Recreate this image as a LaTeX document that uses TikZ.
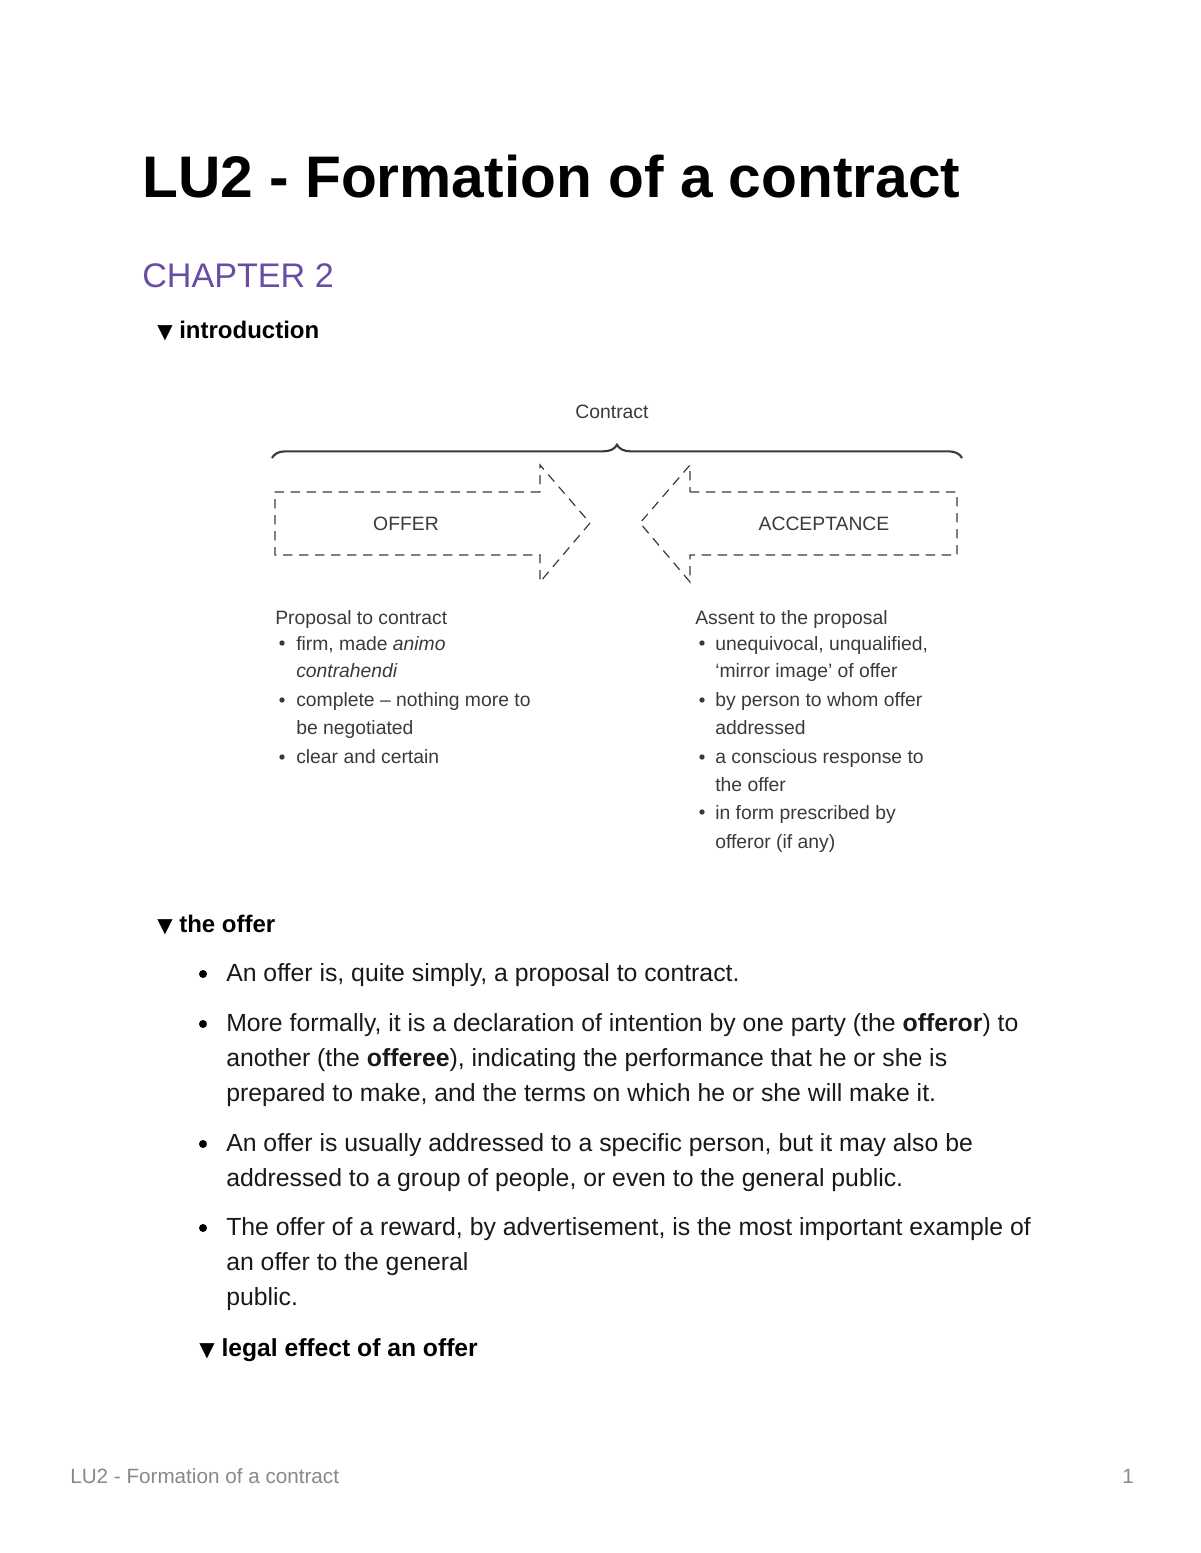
\documentclass[tikz,border=0pt]{standalone}
\usepackage{fontspec}
\setmainfont{Liberation Sans}
\newfontfamily\djvfont{DejaVu Sans}
\usetikzlibrary{decorations.pathreplacing}
\definecolor{purp}{HTML}{6A4BA5}
\definecolor{dg}{HTML}{3A3A3A}
\definecolor{fg}{HTML}{888888}
\tikzset{
 t/.style={anchor=base west,inner sep=0pt},
 body/.style={t,font=\fontsize{18.6}{22}\selectfont,text=black!90},
 dtx/.style={t,font=\fontsize{14.5}{17}\selectfont,text=dg},
 dbox/.style={draw=dg,dashed,dash pattern=on 7pt off 5pt,line width=0.9pt},
 bul/.style={circle,fill,inner sep=0pt,minimum size=4pt}
}
\begin{document}
\begin{tikzpicture}[x=0.75pt,y=-0.75pt]
\useasboundingbox (0,0) rectangle (1200,1553);
\node[t,font=\bfseries\fontsize{44}{52}\selectfont] (title) at (142,197) {LU2 - Formation of a contract};
\node[t,font=\fontsize{25.6}{30}\selectfont,text=purp] (ch) at (142,287) {CHAPTER 2};
\node[t,font=\bfseries\fontsize{18}{21}\selectfont] (intro) at (157,338) {{\djvfont\fontsize{15}{18}\selectfont▼} introduction};
% diagram
\node[dtx,anchor=base] (contract) at (612,418) {Contract};
\draw[dg,line width=1.6pt,decorate,decoration={brace,amplitude=10pt}] (272,458) -- (962,458);
\draw[dbox] (540,492) -- (275,492) -- (275,555) -- (540,555) -- (540,582) -- (590,523) -- (540,465) -- cycle;
\draw[dbox] (690,492) -- (957,492) -- (957,555) -- (690,555) -- (690,582) -- (640,523) -- (690,465) -- cycle;
\node[dtx,anchor=base] (offer) at (406,530) {OFFER};
\node[dtx,anchor=base] (acc) at (824,530) {ACCEPTANCE};
\node[dtx] (l0) at (275,624) {Proposal to contract};
\foreach \y/\s in {650/{firm, made \textit{animo}},677/{\textit{contrahendi}},706/{complete – nothing more to},734/{be negotiated},763/{clear and certain}}
  \node[dtx] at (296,\y) {\s};
\foreach \y in {643,700,757} \node[bul,dg] at (282,\y) {};
\node[dtx] (r0) at (695,624) {Assent to the proposal};
\foreach \y/\s in {650/{unequivocal, unqualified,},677/{‘mirror image’ of offer},706/{by person to whom offer},734/{addressed},763/{a conscious response to},791/{the offer},819/{in form prescribed by},848/{offeror (if any)}}
  \node[dtx] at (715,\y) {\s};
\foreach \y in {643,700,757,812} \node[bul,dg] at (702,\y) {};
% the offer
\node[t,font=\bfseries\fontsize{18}{21}\selectfont] (off) at (157,932) {{\djvfont\fontsize{15}{18}\selectfont▼} the offer};
\foreach \y/\s in {981/{An offer is, quite simply, a proposal to contract.},
 1031/{More formally, it is a declaration of intention by one party (the \textbf{offeror}) to},
 1066/{another (the \textbf{offeree}), indicating the performance that he or she is},
 1101/{prepared to make, and the terms on which he or she will make it.},
 1151/{An offer is usually addressed to a specific person, but it may also be},
 1186/{addressed to a group of people, or even to the general public.},
 1235/{The offer of a reward, by advertisement, is the most important example of},
 1270/{an offer to the general},
 1305/{public.}}
 \node[body] at (226,\y) {\s};
\foreach \y in {974,1024,1144,1228} \node[bul,minimum size=6pt] at (203,\y) {};
\node[t,font=\bfseries\fontsize{18.5}{22}\selectfont] (leg) at (199,1356) {{\djvfont\fontsize{15}{18}\selectfont▼} legal effect of an offer};
\node[t,font=\fontsize{15.5}{18}\selectfont,text=fg] (foot) at (70,1483) {LU2 - Formation of a contract};
\node[t,font=\fontsize{15.5}{18}\selectfont,text=fg] (pg) at (1122,1483) {1};
\end{tikzpicture}
\end{document}
